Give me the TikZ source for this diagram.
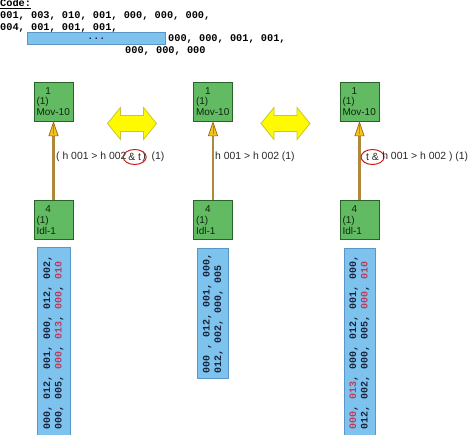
\documentclass[tikz,border=0pt]{standalone}
\usepackage{fontspec}
\setmainfont{Liberation Sans}
\newfontfamily\codefont{Liberation Mono}
\usetikzlibrary{arrows.meta,shapes.geometric}
\definecolor{boxgreen}{RGB}{98,186,98}
\definecolor{boxedge}{RGB}{40,100,40}
\definecolor{boxtext}{RGB}{15,40,15}
\definecolor{shaft}{RGB}{176,136,60}
\definecolor{headfill}{RGB}{245,195,30}
\definecolor{headedge}{RGB}{150,100,20}
\definecolor{yel}{RGB}{255,250,0}
\definecolor{yeledge}{RGB}{200,200,40}
\definecolor{barblue}{RGB}{125,195,238}
\definecolor{baredge}{RGB}{90,150,200}
\definecolor{redtext}{RGB}{190,60,90}
\definecolor{ringred}{RGB}{200,30,30}
\definecolor{labeltext}{RGB}{40,40,40}
\definecolor{bartext}{RGB}{25,35,60}
\newcommand{\rd}[1]{\textcolor{redtext}{#1}}
\begin{document}
\begin{tikzpicture}[x=1pt,y=-1pt,
  state/.style={draw=boxedge, fill=boxgreen, minimum width=39pt, minimum height=39pt,
    inner sep=0pt, font=\fontsize{10}{10.8}\selectfont, text=boxtext, align=left, text width=34pt},
  trans/.style={line width=2.6pt, draw=shaft,
    -{Triangle[length=15pt, width=10pt, fill=headfill, color=headedge, line width=0.7pt]}},
  lbl/.style={font=\fontsize{10.4}{12}\selectfont, text=labeltext, inner sep=0pt, anchor=west},
  ring/.style={draw=ringred, ellipse, line width=1pt, inner sep=0pt},
  bar/.style={draw=baredge, fill=barblue, line width=0.6pt, inner sep=0pt},
  codetext/.style={font=\codefont\bfseries\fontsize{10.3}{12}\selectfont, inner sep=0pt, anchor=west, text=black},
  bartxt/.style={font=\codefont\bfseries\fontsize{10}{11.5}\selectfont, inner sep=0pt, rotate=90,
    anchor=west, align=left, text=bartext},
  dbl/.style={draw=yeledge, fill=yel, line width=0.8pt, line join=miter},
  dblarrow/.pic={\draw[dbl] (-24.5,0) -- (-11.5,-16) -- (-11.5,-8) -- (11.5,-8) -- (11.5,-16)
      -- (24.5,0) -- (11.5,16) -- (11.5,8) -- (-11.5,8) -- (-11.5,16) -- cycle;}
]
\useasboundingbox (0,0) rectangle (474,434);
\clip (0,0) rectangle (474,434);
\fill[white] (0,0) rectangle (474,434);

% code block
\node[codetext] (code) at (0,4) {\underline{Code:}};
\node[codetext] (c1) at (0,16) {001, 003, 010, 001, 000, 000, 000,};
\node[codetext] (c2) at (0,27.5) {004, 001, 001, 001,};
\node[bar, anchor=north west, minimum width=138pt, minimum height=11.5pt,
  font=\codefont\bfseries\fontsize{10}{11}\selectfont, text=bartext] (dots) at (27,32.3) {...};
\node[codetext] (c3) at (168,39) {000, 000, 001, 001,};
\node[codetext] (c4) at (125,50.5) {000, 000, 000};

% states
\node[state] (m1) at (53.5,101.5) {\hspace*{9pt}1\\(1)\\Mov-10};
\node[state] (i1) at (53.5,220) {\hspace*{9pt}4\\(1)\\Idl-1};
\node[state] (m2) at (213,101.5) {\hspace*{9pt}1\\(1)\\Mov-10};
\node[state] (i2) at (213,220) {\hspace*{9pt}4\\(1)\\Idl-1};
\node[state] (m3) at (359.5,101.5) {\hspace*{9pt}1\\(1)\\Mov-10};
\node[state] (i3) at (359.5,220) {\hspace*{9pt}4\\(1)\\Idl-1};

% transitions
\draw[trans] (i1) -- (m1);
\draw[trans] (i2) -- (m2);
\draw[trans] (i3) -- (m3);
\draw[shaft, line width=0.8pt] ([yshift=-13pt]m1.south) -- ([yshift=-4pt]m1.south);
\draw[shaft, line width=0.8pt] ([yshift=-13pt]m2.south) -- ([yshift=-4pt]m2.south);
\draw[shaft, line width=0.8pt] ([yshift=-13pt]m3.south) -- ([yshift=-4pt]m3.south);

% labels
\node[lbl] (l1a) at (56,157) {( h 001 > h 002};
\node[lbl] (l1b) at ([xshift=1.5pt]l1a.east) {\& t};
\node[lbl] (l1c) at ([xshift=1pt]l1b.east) {)\ \ (1)};
\node[ring, minimum width=23pt, minimum height=15pt] (r1) at (l1b) {};

\node[lbl] (l2) at (215,157) {h 001 > h 002 (1)};

\node[lbl] (l3b) at (366,157) {t \&};
\node[ring, minimum width=23pt, minimum height=15pt] (r3) at (l3b) {};
\node[lbl] (l3c) at ([xshift=3pt]l3b.east) {h 001 > h 002 ) (1)};

% double arrows
\pic at (132,123.5) {dblarrow};
\pic at (285.5,123.5) {dblarrow};

% code bars
\node[bar, anchor=north, minimum width=33pt, minimum height=192pt] (v1) at (53.5,247) {};
\node[bar, anchor=north, minimum width=31pt, minimum height=130pt] (v2) at (213,248) {};
\node[bar, anchor=north, minimum width=31pt, minimum height=192pt] (v3) at (359.5,248) {};

\node[bartxt] (t1) at (53.5,430) {000, 012, 001, 000, 012, 002,\\000, 005, \rd{000}, \rd{013}, \rd{000}, \rd{010}};
\node[bartxt] (t2) at (213,374) {000 , 012, 001, 000,\\012, 002, 000, 005};
\node[bartxt] (t3) at (359.5,430) {\rd{000}, \rd{013}, 000, 012, 001, 000,\\012, 002, 000, 005, \rd{000}, \rd{010}};
\end{tikzpicture}
\end{document}
